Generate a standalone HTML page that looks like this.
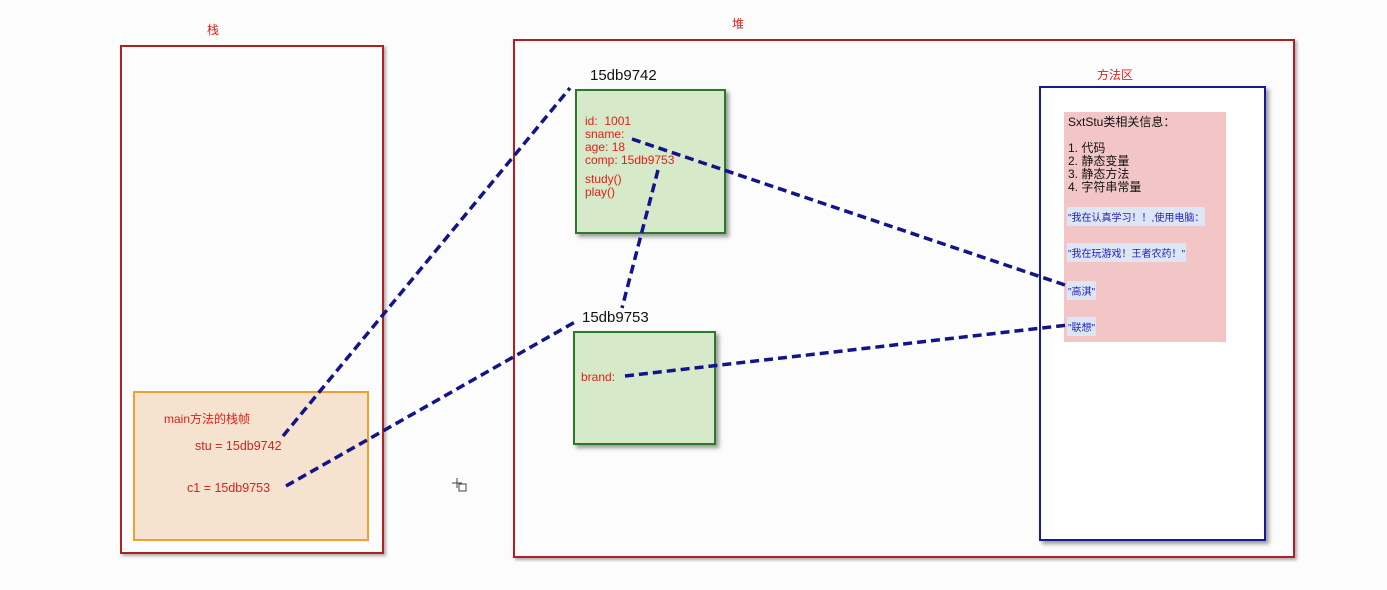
<!DOCTYPE html>
<html><head><meta charset="utf-8"><style>
body{margin:0;width:1387px;height:590px;background:#fcfcfc;position:relative;overflow:hidden;font-family:"Liberation Sans","Noto Sans CJK SC",sans-serif}
.a{position:absolute;box-sizing:border-box}
.t{position:absolute;white-space:nowrap}
.r{color:#e0201a}
</style></head><body>
<div class="t r" style="left:207px;top:21px;font-size:12px">栈</div>
<div class="a" style="left:120px;top:45px;width:264px;height:509px;border:2px solid #b02020;box-shadow:2px 2px 3px #aaa"></div>
<div class="a" style="left:133px;top:391px;width:236px;height:150px;border:2px solid #f0a030;background:#f5e3cf"></div>
<div class="t r" style="left:164px;top:410px;font-size:12px">main方法的栈帧</div>
<div class="t r" style="left:195px;top:439px;font-size:12.5px">stu = 15db9742</div>
<div class="t r" style="left:187px;top:481px;font-size:12.5px">c1 = 15db9753</div>

<div class="t r" style="left:732px;top:15px;font-size:12px">堆</div>
<div class="a" style="left:513px;top:39px;width:782px;height:519px;border:2px solid #b02020;box-shadow:2px 2px 3px #aaa"></div>

<div class="t" style="left:590px;top:67px;font-size:15px;color:#111">15db9742</div>
<div class="a" style="left:575px;top:89px;width:151px;height:145px;border:2px solid #2a7a2a;background:#d6e9c9;box-shadow:3px 3px 4px #999"></div>
<div class="t r" style="left:585px;top:115px;font-size:12px;line-height:13px">id:&nbsp; 1001<br>sname:<br>age: 18<br>comp: 15db9753<br><div style="height:6px"></div>study()<br>play()</div>

<div class="t" style="left:582px;top:309px;font-size:15px;color:#111">15db9753</div>
<div class="a" style="left:573px;top:331px;width:143px;height:114px;border:2px solid #2a7a2a;background:#d6e9c9;box-shadow:3px 3px 4px #999"></div>
<div class="t r" style="left:581px;top:370px;font-size:12px">brand:</div>

<div class="t r" style="left:1097px;top:66px;font-size:12px">方法区</div>
<div class="a" style="left:1039px;top:86px;width:227px;height:455px;border:2px solid #1a1a90;background:#fff;box-shadow:3px 3px 4px #999"></div>
<div class="a" style="left:1064px;top:112px;width:162px;height:230px;background:#f2c6c6"></div>
<div class="t" style="left:1068px;top:116px;font-size:12px;line-height:13px;color:#111">SxtStu类相关信息：<br><br>1. 代码<br>2. 静态变量<br>3. 静态方法<br>4. 字符串常量</div>
<div class="t" style="left:1067px;top:207px;font-size:10px;color:#2020c0;background:#dde6f5;padding:2px 1px">"我在认真学习！！,使用电脑：</div>
<div class="t" style="left:1067px;top:243px;font-size:10px;color:#2020c0;background:#dde6f5;padding:2px 1px">"我在玩游戏！王者农药！"</div>
<div class="t" style="left:1067px;top:281px;font-size:10px;color:#2020c0;background:#dde6f5;padding:2px 1px">"高淇"</div>
<div class="t" style="left:1067px;top:317px;font-size:10px;color:#2020c0;background:#dde6f5;padding:2px 1px">"联想"</div>

<svg class="a" style="left:0;top:0" width="1387" height="590">
<g stroke="#14148a" stroke-width="3.5" stroke-dasharray="9,5" fill="none">
<line x1="283" y1="436" x2="570" y2="88"/>
<line x1="286" y1="486" x2="575" y2="322"/>
<line x1="632" y1="139" x2="1065" y2="285"/>
<line x1="658" y1="170" x2="622" y2="308"/>
<line x1="625" y1="376" x2="1068" y2="325"/>
</g>
<g stroke="#444" stroke-width="1" fill="none"><path d="M452 483h10M457 478v10"/><rect x="459" y="484" width="7" height="7"/></g>
</svg>
</body></html>
